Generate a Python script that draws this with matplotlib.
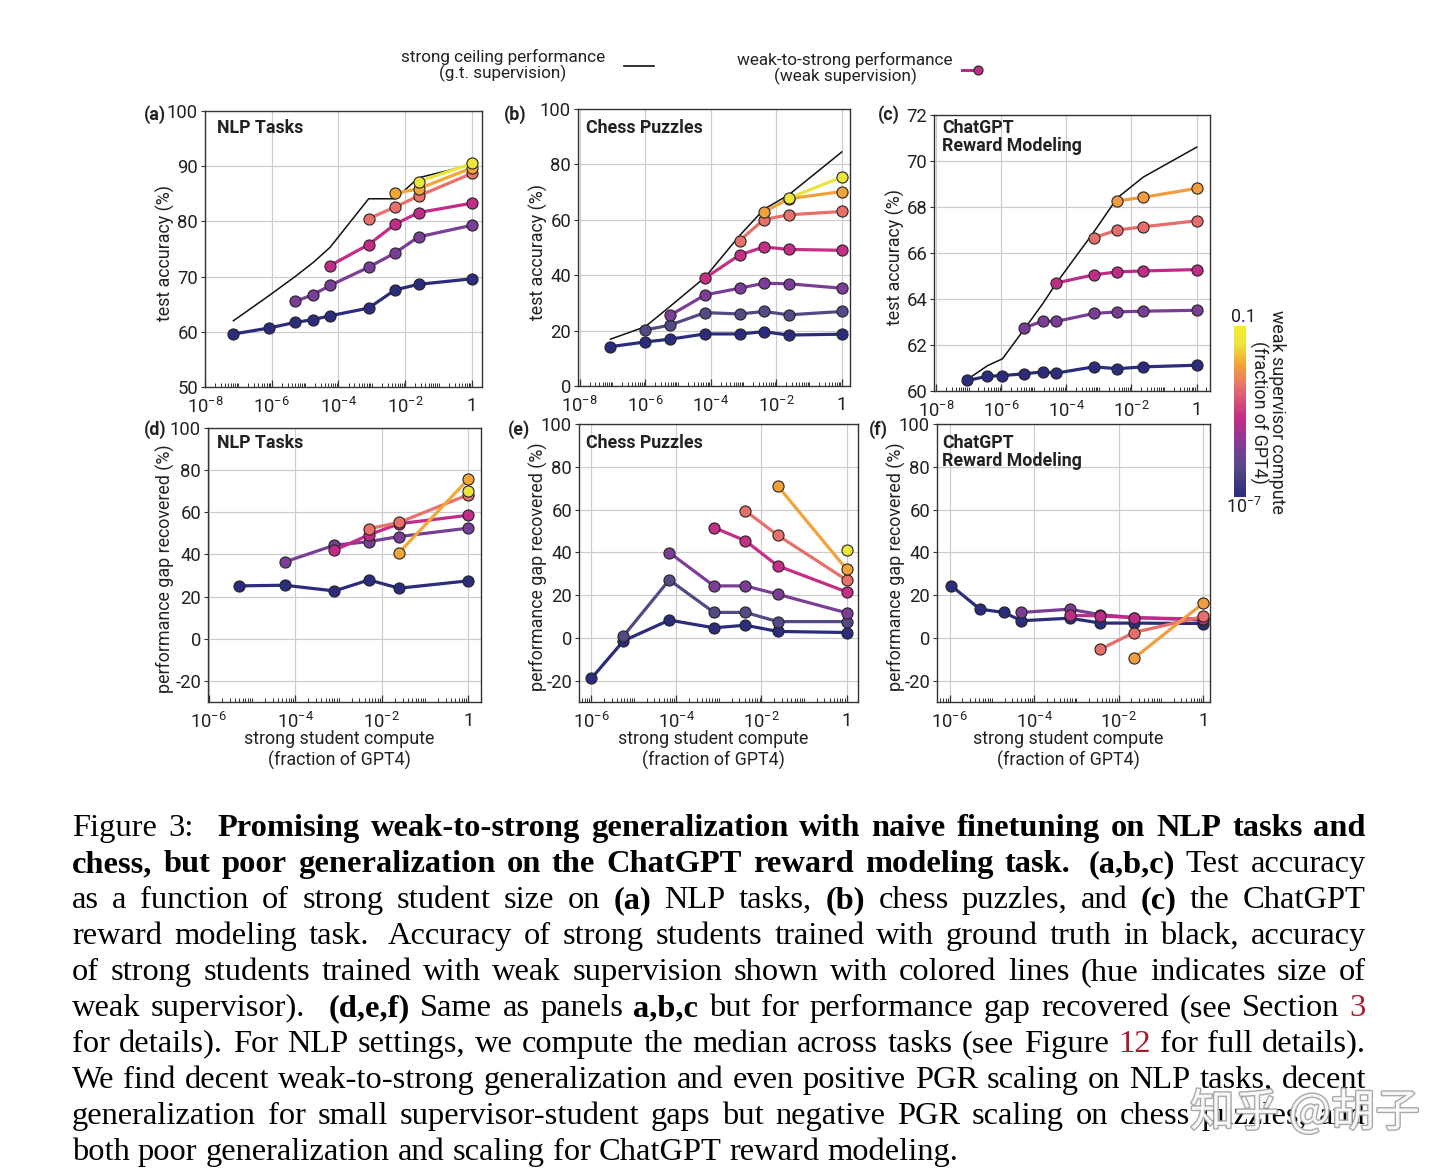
import numpy as np
import matplotlib
matplotlib.use('Agg')
import matplotlib.pyplot as plt
from matplotlib.colors import LinearSegmentedColormap, LogNorm
from matplotlib.ticker import FixedLocator, LogLocator, FuncFormatter, NullFormatter, NullLocator
from matplotlib.lines import Line2D
from matplotlib.cm import ScalarMappable
import matplotlib.patheffects as pe

nan = np.nan

# ---------------- data ----------------
# strong student compute (fraction of GPT4)
nlp_student = [7.1e-8, 8.5e-7, 5.0e-6, 1.7e-5, 5.6e-5, 8.0e-4, 5.0e-3, 2.5e-2, 1.0]
chess_student = [8.7e-8, 1.0e-6, 5.7e-6, 6.8e-5, 7.6e-4, 4.2e-3, 2.4e-2, 1.0]
rm_student = [9.1e-8, 3.8e-7, 1.1e-6, 5.2e-6, 1.9e-5, 5.0e-5, 6.9e-4, 3.7e-3, 2.3e-2, 1.0]

# weak supervisor compute of each coloured series
nlp_weak = [7.1e-8, 5.0e-6, 5.6e-5, 8.0e-4, 5.0e-3, 2.5e-2]
chess_weak = [8.7e-8, 1.0e-6, 5.7e-6, 6.8e-5, 7.6e-4, 4.2e-3, 2.4e-2]
rm_weak = [9.1e-8, 5.2e-6, 5.0e-5, 6.9e-4, 3.7e-3]

# (a) NLP test accuracy
nlp_ceiling = [62.0, 66.6, 70.0, 72.5, 75.3, 84.1, 84.1, 87.9, 90.3]
nlp_acc_1 = [59.6, 60.7, 61.7, 62.2, 62.9, 64.3, 67.6, 68.6, 69.6]
nlp_acc_2 = [nan, nan, 65.5, 66.7, 68.4, 71.7, 74.3, 77.2, 79.3]
nlp_acc_3 = [nan, nan, nan, nan, 72.0, 75.8, 79.5, 81.6, 83.3]
nlp_acc_4 = [nan, nan, nan, nan, nan, 80.5, 82.6, 84.6, 88.7]
nlp_acc_5 = [nan, nan, nan, nan, nan, nan, 85.1, 85.9, 89.7]
nlp_acc_6 = [nan, nan, nan, nan, nan, nan, nan, 87.2, 90.5]

# (b) chess test accuracy
chess_ceiling = [16.9, 21.4, 28.7, 39.3, 54.3, 63.8, 69.0, 84.5]
chess_acc_1 = [14.2, 15.9, 16.9, 18.8, 18.8, 19.6, 18.4, 18.7]
chess_acc_2 = [nan, 20.2, 22.0, 26.5, 26.0, 26.9, 25.7, 26.9]
chess_acc_3 = [nan, nan, 25.5, 32.9, 35.3, 37.1, 36.9, 35.3]
chess_acc_4 = [nan, nan, nan, 39.0, 47.3, 50.2, 49.3, 49.0]
chess_acc_5 = [nan, nan, nan, nan, 52.5, 60.1, 61.8, 63.0]
chess_acc_6 = [nan, nan, nan, nan, nan, 62.8, 67.6, 70.2]
chess_acc_7 = [nan, nan, nan, nan, nan, nan, 67.8, 75.4]

# (c) ChatGPT reward modeling test accuracy
rm_ceiling = [60.5, 61.1, 61.4, 62.7, 63.8, 64.7, 66.9, 68.4, 69.3, 70.6]
rm_acc_1 = [60.46, 60.64, 60.67, 60.75, 60.83, 60.78, 61.05, 60.97, 61.05, 61.12]
rm_acc_2 = [nan, nan, nan, 62.76, 63.03, 63.03, 63.37, 63.44, 63.47, 63.51]
rm_acc_3 = [nan, nan, nan, nan, nan, 64.70, 65.05, 65.18, 65.22, 65.28]
rm_acc_4 = [nan, nan, nan, nan, nan, nan, 66.66, 67.00, 67.14, 67.40]
rm_acc_5 = [nan, nan, nan, nan, nan, nan, nan, 68.27, 68.42, 68.81]

# (d) NLP performance gap recovered
nlp_pgr_1 = [nan, nan, 25.1, nan, 25.4, 22.7, 27.9, 24.0, 27.5]
nlp_pgr_2 = [nan, nan, nan, nan, 36.4, 44.4, 46.1, 48.5, 52.5]
nlp_pgr_3 = [nan, nan, nan, nan, nan, 42.0, 49.3, 54.6, 58.6]
nlp_pgr_4 = [nan, nan, nan, nan, nan, nan, 52.2, 55.2, 68.4]
nlp_pgr_5 = [nan, nan, nan, nan, nan, nan, nan, 40.9, 75.8]
nlp_pgr_6 = [nan, nan, nan, nan, nan, nan, nan, nan, 70.0]

# (e) chess performance gap recovered
chess_pgr_1 = [nan, -19.0, -1.4, 8.3, 4.7, 5.9, 3.0, 2.5]
chess_pgr_2 = [nan, nan, 0.9, 27.1, 11.9, 11.9, 7.6, 7.6]
chess_pgr_3 = [nan, nan, nan, 39.9, 24.3, 24.3, 20.4, 11.7]
chess_pgr_4 = [nan, nan, nan, nan, 51.6, 45.4, 33.7, 21.5]
chess_pgr_5 = [nan, nan, nan, nan, nan, 59.4, 48.0, 27.1]
chess_pgr_6 = [nan, nan, nan, nan, nan, nan, 71.1, 32.1]
chess_pgr_7 = [nan, nan, nan, nan, nan, nan, nan, 41.0]

# (f) reward modeling performance gap recovered
rm_pgr_1 = [nan, nan, 24.3, 13.4, 11.9, 8.0, 9.2, 6.9, 6.9, 6.7]
rm_pgr_2 = [nan, nan, nan, nan, nan, 11.9, 13.4, 10.8, 9.5, 8.3]
rm_pgr_3 = [nan, nan, nan, nan, nan, nan, 10.5, 10.3, 9.4, 8.8]
rm_pgr_4 = [nan, nan, nan, nan, nan, nan, nan, -5.3, 2.5, 10.0]
rm_pgr_5 = [nan, nan, nan, nan, nan, nan, nan, nan, -9.5, 16.2]

top_xticks = [1e-8, 1e-6, 1e-4, 1e-2, 1.0]
bottom_xticks = [1e-6, 1e-4, 1e-2, 1.0]
acc_nlp_yticks = [50, 60, 70, 80, 90, 100]
acc_chess_yticks = [0, 20, 40, 60, 80, 100]
acc_rm_yticks = [60, 62, 64, 66, 68, 70, 72]
pgr_yticks = [-20, 0, 20, 40, 60, 80, 100]

# ---------------- style ----------------
plt.rcParams['font.family'] = ['Roboto', 'DejaVu Sans']
plt.rcParams['font.size'] = 13
plt.rcParams['axes.unicode_minus'] = False
plt.rcParams['mathtext.fontset'] = 'custom'
plt.rcParams['mathtext.rm'] = 'Roboto'
plt.rcParams['mathtext.it'] = 'Roboto:italic'
plt.rcParams['mathtext.bf'] = 'Roboto:bold'

TICK_FS = 13.3
LAB_FS = 12.9

cmap = LinearSegmentedColormap.from_list('w2s', [
    (0.0, '#2b2c7c'), (0.167, '#564985'), (0.29, '#7b3d96'), (0.46, '#c22b87'),
    (0.65, '#e9716a'), (0.78, '#f2a535'), (0.9, '#ebe63c'), (1.0, '#f5ea2e')])
norm = LogNorm(1e-7, 1e-1)

W, H = 1456, 1171
fig = plt.figure(figsize=(W / 100, H / 100), dpi=100)


def add_ax(l, t, r, b):
    return fig.add_axes([l / W, 1 - b / H, (r - l) / W, (b - t) / H])


def fx(x):
    return x / W


def fy(y):
    return 1 - y / H


def fmt_pow(v, pos):
    e = int(round(np.log10(v)))
    return '1' if e == 0 else r'$\mathregular{10^{%d}}$' % e


def style_axes(ax, xlim_log, xticks, ylim, yticks):
    ax.set_xscale('log')
    ax.set_xlim(10 ** xlim_log[0], 10 ** xlim_log[1])
    ax.set_ylim(*ylim)
    ax.set_yticks(yticks)
    ax.xaxis.set_major_locator(FixedLocator(xticks))
    ax.xaxis.set_minor_locator(LogLocator(base=10, subs=np.arange(1, 10), numticks=100))
    ax.xaxis.set_minor_formatter(NullFormatter())
    ax.xaxis.set_major_formatter(FuncFormatter(fmt_pow))
    ax.tick_params(axis='x', which='major', direction='in', length=5, width=0.9, pad=7,
                   labelsize=TICK_FS, color='#333333', labelcolor='#222222')
    ax.tick_params(axis='x', which='minor', direction='in', length=3, width=0.7, color='#333333')
    ax.tick_params(axis='y', which='major', direction='out', length=3, width=0.8, pad=2,
                   labelsize=TICK_FS, color='#333333', labelcolor='#222222')
    ax.grid(True, which='major', color='#cccccc', lw=0.85)
    ax.set_axisbelow(True)
    for s in ax.spines.values():
        s.set_color('#333333')
        s.set_linewidth(1.0)


def draw_series(ax, xs, ys, weak, z):
    xs = np.asarray(xs, float)
    ys = np.asarray(ys, float)
    m = np.isfinite(ys)
    c = cmap(norm(weak))
    ax.plot(xs[m], ys[m], '-', color=c, lw=2.3, zorder=z, solid_capstyle='round')
    ax.plot(xs[m], ys[m], 'o', color=c, ms=8, mec='#262626', mew=0.8, zorder=z + 0.5,
            clip_on=False)


panels = [
    dict(box=(205, 111, 482, 387), xlim=(-8.0, 0.3), xt=top_xticks, ylim=(50, 100),
         yt=acc_nlp_yticks, xs=nlp_student, ceil=nlp_ceiling,
         series=[nlp_acc_1, nlp_acc_2, nlp_acc_3, nlp_acc_4, nlp_acc_5, nlp_acc_6], weak=nlp_weak,
         tag='(a)', tagpos=(155, 115), title='NLP Tasks', tpos=(217, 128),
         ylab='test accuracy (%)', ylx=165),
    dict(box=(578, 109, 850, 386), xlim=(-8.05, 0.25), xt=top_xticks, ylim=(0, 100),
         yt=acc_chess_yticks, xs=chess_student, ceil=chess_ceiling,
         series=[chess_acc_1, chess_acc_2, chess_acc_3, chess_acc_4, chess_acc_5, chess_acc_6,
                 chess_acc_7], weak=chess_weak,
         tag='(b)', tagpos=(515, 115), title='Chess Puzzles', tpos=(586, 128),
         ylab='test accuracy (%)', ylx=538),
    dict(box=(934, 115, 1210, 391), xlim=(-8.06, 0.41), xt=top_xticks, ylim=(60, 72),
         yt=acc_rm_yticks, xs=rm_student, ceil=rm_ceiling,
         series=[rm_acc_1, rm_acc_2, rm_acc_3, rm_acc_4, rm_acc_5], weak=rm_weak,
         tag='(c)', tagpos=(889, 115), title='ChatGPT\nReward Modeling', tpos=(942, 137),
         ylab='test accuracy (%)', ylx=895),
    dict(box=(208, 428, 481, 702), xlim=(-6.02, 0.29), xt=bottom_xticks, ylim=(-30, 100),
         yt=pgr_yticks, xs=nlp_student, ceil=None,
         series=[nlp_pgr_1, nlp_pgr_2, nlp_pgr_3, nlp_pgr_4, nlp_pgr_5, nlp_pgr_6], weak=nlp_weak,
         tag='(d)', tagpos=(155, 430), title='NLP Tasks', tpos=(217, 443),
         ylab='performance gap recovered (%)', ylx=165),
    dict(box=(579, 424, 858, 702), xlim=(-6.29, 0.27), xt=bottom_xticks, ylim=(-30, 100),
         yt=pgr_yticks, xs=chess_student, ceil=None,
         series=[chess_pgr_1, chess_pgr_2, chess_pgr_3, chess_pgr_4, chess_pgr_5, chess_pgr_6,
                 chess_pgr_7], weak=chess_weak,
         tag='(e)', tagpos=(519, 430), title='Chess Puzzles', tpos=(586, 443),
         ylab='performance gap recovered (%)', ylx=538),
    dict(box=(937, 424, 1210, 702), xlim=(-6.3, 0.16), xt=bottom_xticks, ylim=(-30, 100),
         yt=pgr_yticks, xs=rm_student, ceil=None,
         series=[rm_pgr_1, rm_pgr_2, rm_pgr_3, rm_pgr_4, rm_pgr_5], weak=rm_weak,
         tag='(f)', tagpos=(878, 430), title='ChatGPT\nReward Modeling', tpos=(942, 452),
         ylab='performance gap recovered (%)', ylx=896),
]

for i, p in enumerate(panels):
    ax = add_ax(*p['box'])
    style_axes(ax, p['xlim'], p['xt'], p['ylim'], p['yt'])
    if p['ceil'] is not None:
        ax.plot(p['xs'], p['ceil'], color='#111111', lw=1.1, zorder=2.5)
    for k, (ys, w) in enumerate(zip(p['series'], p['weak'])):
        draw_series(ax, p['xs'], ys, w, 3 + k)
    fig.text(fx(p['tagpos'][0]), fy(p['tagpos'][1]), p['tag'], fontsize=12.8,
             fontweight='bold', ha='center', va='center', color='#222222')
    fig.text(fx(p['tpos'][0]), fy(p['tpos'][1]), p['title'], fontsize=12.8,
             fontweight='bold', ha='left', va='center', color='#222222', linespacing=1.0)
    l, t, r, b = p['box']
    fig.text(fx(p['ylx']), fy((t + b) / 2 + 4), p['ylab'], rotation=90, fontsize=LAB_FS,
             ha='center', va='center', color='#222222')
    if i >= 3:
        cx = (l + r) / 2 - 5
        fig.text(fx(cx), fy(739), 'strong student compute', fontsize=LAB_FS,
                 ha='center', va='center', color='#222222')
        fig.text(fx(cx), fy(760), '(fraction of GPT4)', fontsize=LAB_FS,
                 ha='center', va='center', color='#222222')

# colorbar
cax = add_ax(1234, 326, 1246, 497)
cb = fig.colorbar(ScalarMappable(norm=norm, cmap=cmap), cax=cax)
cb.ax.yaxis.set_major_locator(NullLocator())
cb.ax.yaxis.set_minor_locator(NullLocator())
cb.outline.set_visible(False)
fig.text(fx(1243), fy(317), '0.1', fontsize=LAB_FS, ha='center', va='center', color='#222222')
fig.text(fx(1244), fy(507), r'$\mathregular{10^{-7}}$', fontsize=LAB_FS, ha='center',
         va='center', color='#222222')
fig.text(fx(1277), fy(412), 'weak supervisor compute', rotation=-90,
         fontsize=LAB_FS, ha='center', va='center', color='#222222')
fig.text(fx(1259), fy(412), '(fraction of GPT4)', rotation=-90,
         fontsize=LAB_FS, ha='center', va='center', color='#222222')

# top legend
fig.text(fx(503), fy(65.5), 'strong ceiling performance\n(g.t. supervision)', fontsize=12.3,
         ha='center', va='center', multialignment='center', linespacing=1.0, color='#222222')
fig.add_artist(Line2D([fx(624), fx(654)], [fy(66), fy(66)], transform=fig.transFigure,
                      color='#111111', lw=1.2))
fig.text(fx(845), fy(68.5), 'weak-to-strong performance\n(weak supervision)', fontsize=12.3,
         ha='center', va='center', multialignment='center', linespacing=1.0, color='#222222')
fig.add_artist(Line2D([fx(962), fx(978)], [fy(70), fy(70)], transform=fig.transFigure,
                      color=cmap(0.45), lw=2.2, marker='o', markevery=[1], ms=6.5,
                      mec='#262626', mew=0.8))

# caption
caption_lines = [
    [("Figure 3:  ", 'n'), ("Promising weak-to-strong generalization with naive finetuning on NLP tasks and", 'b')],
    [("chess, but poor generalization on the ChatGPT reward modeling task.  (a,b,c)", 'b'), ("Test accuracy", 'n')],
    [("as a function of strong student size on", 'n'), ("(a)", 'b'), ("NLP tasks,", 'n'), ("(b)", 'b'),
     ("chess puzzles, and", 'n'), ("(c)", 'b'), ("the ChatGPT", 'n')],
    [("reward modeling task.  Accuracy of strong students trained with ground truth in black, accuracy", 'n')],
    [("of strong students trained with weak supervision shown with colored lines (hue indicates size of", 'n')],
    [("weak supervisor).  ", 'n'), ("(d,e,f)", 'b'), ("Same as panels", 'n'), ("a,b,c", 'b'),
     ("but for performance gap recovered (see Section", 'n'), ("3", 'r')],
    [("for details). For NLP settings, we compute the median across tasks (see Figure", 'n'), ("12", 'r'),
     ("for full details).", 'n')],
    [("We find decent weak-to-strong generalization and even positive PGR scaling on NLP tasks, decent", 'n')],
    [("generalization for small supervisor-student gaps but negative PGR scaling on chess puzzles, and", 'n')],
    [("both poor generalization and scaling for ChatGPT reward modeling.", 'n')],
]

renderer = fig.canvas.get_renderer()
serif = ['Liberation Serif', 'DejaVu Serif']
probe = fig.text(0, 0, caption_lines[-1][0][0], family=serif, fontsize=21)
nat = probe.get_window_extent(renderer=renderer).width
probe.remove()
cap_fs = 21 * 885.0 / nat
x0, x1 = 72, 1366
space_px = 0.25 * cap_fs * 100 / 72

for li, segs in enumerate(caption_lines):
    items = []
    for text, st in segs:
        pending = 1.0 if items else 0.0
        for tok in text.split(' '):
            if tok == '':
                if items:
                    items[-1][3] += 0.6
                continue
            items.append([tok, st, pending, 0.0])
            pending = 1.0
    for k in range(len(items) - 1):
        items[k + 1][2] += items[k][3]
    y = 836 + 36 * li
    objs = []
    for tok, st, g, _ in items:
        t = fig.text(0, fy(y), tok, family=serif, fontsize=cap_fs,
                     fontweight='bold' if st == 'b' else 'normal',
                     color='#a8192e' if st == 'r' else 'black', ha='left', va='baseline')
        objs.append((t, t.get_window_extent(renderer=renderer).width, g))
    total = sum(o[1] for o in objs)
    gsum = sum(o[2] for o in objs)
    justify = li < len(caption_lines) - 1
    unit = (x1 - x0 - total) / gsum if (justify and gsum > 0) else space_px
    x = x0
    for t, w, g in objs:
        x += g * unit
        t.set_x(fx(x))
        x += w

# watermark (overlays the caption as in the source image)
fig.text(fx(1305), fy(1113), '知乎 @胡子', family=['Noto Sans CJK SC', 'DejaVu Sans'], fontsize=32,
         color='white', alpha=0.9, ha='center', va='center',
         path_effects=[pe.Stroke(linewidth=2.0, foreground='#a0a0a0'), pe.Normal()])

fig.savefig('out.png', dpi=100, facecolor='white')
